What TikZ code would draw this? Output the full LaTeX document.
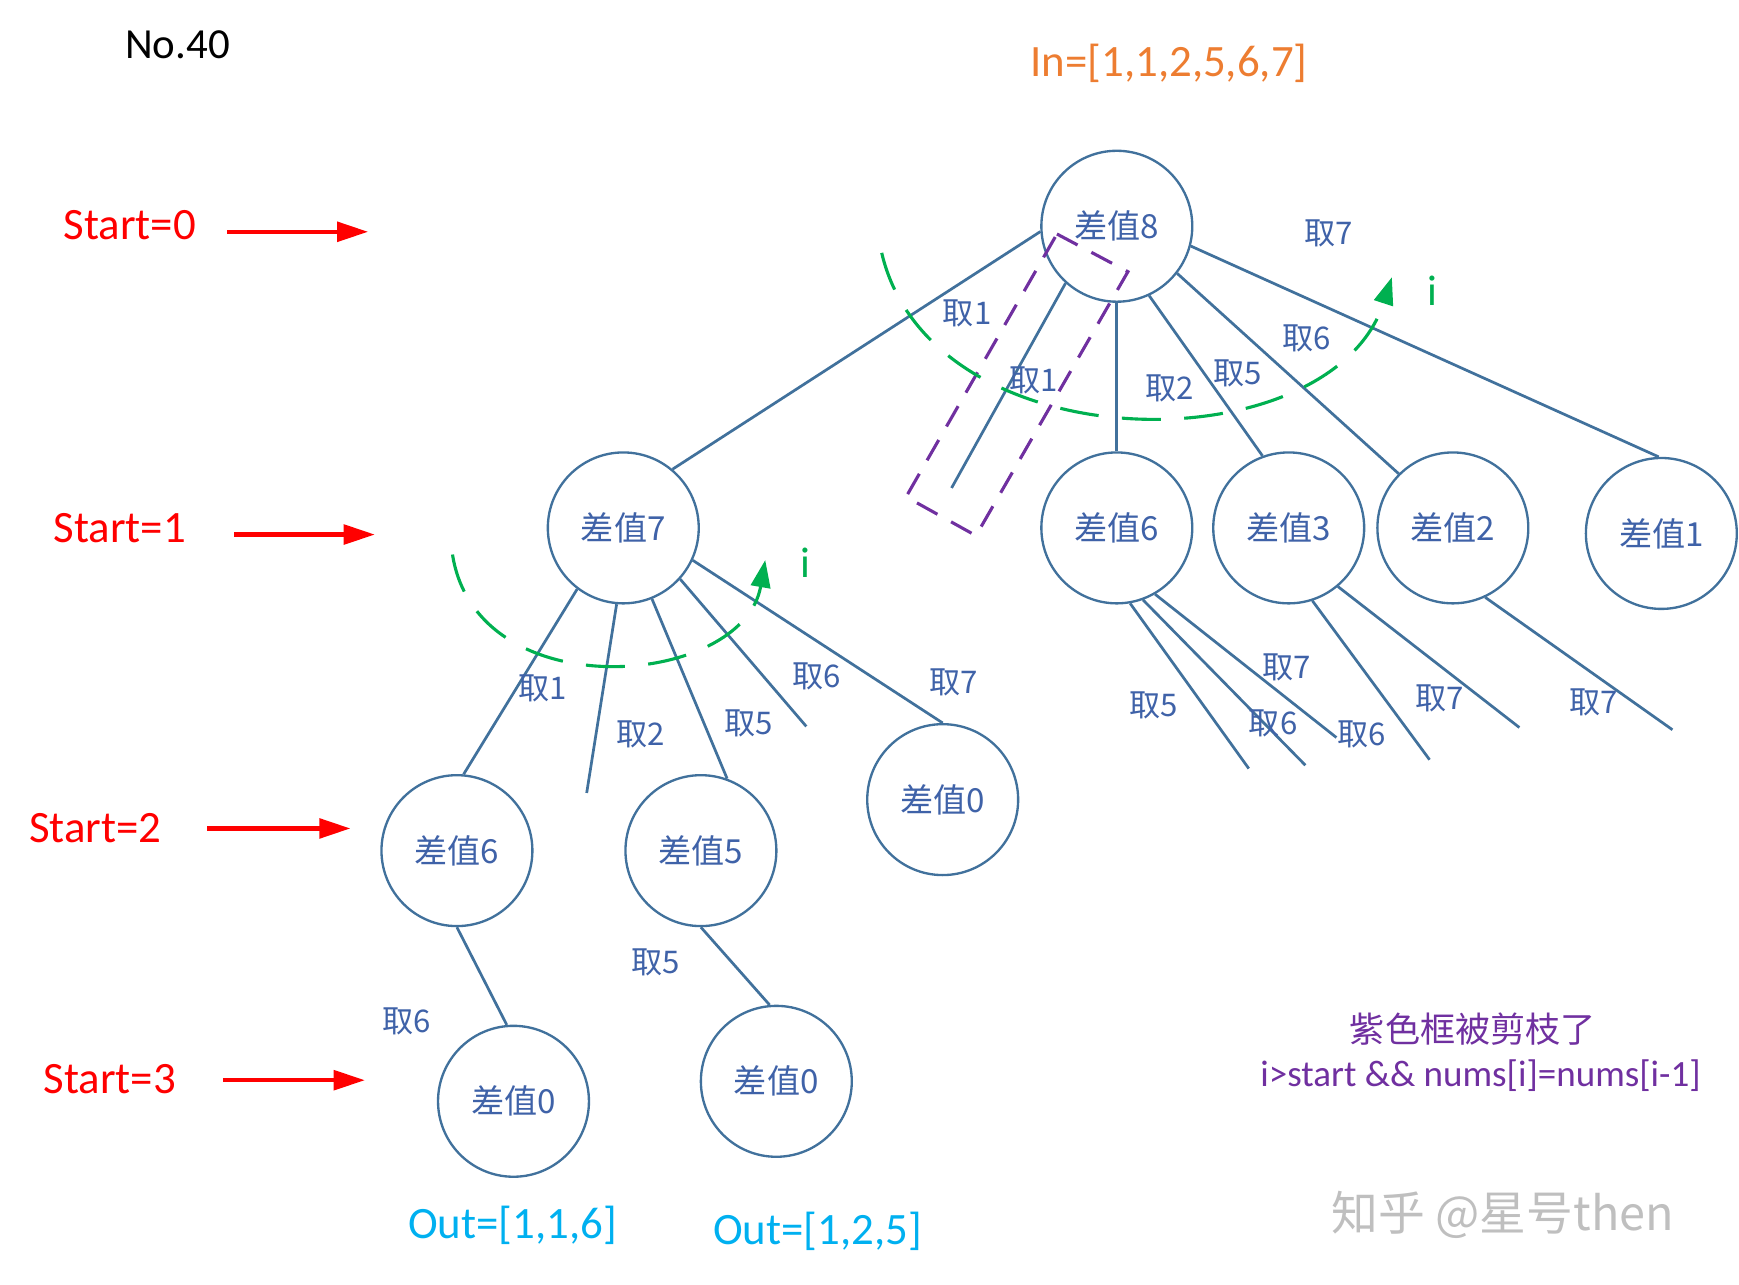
\documentclass[tikz,border=0pt]{standalone}
\usepackage{fontspec}
\setmainfont{Carlito}
\newfontfamily\cjk{Noto Sans CJK SC}
\usetikzlibrary{arrows.meta}
\definecolor{nb}{HTML}{41719C}
\definecolor{tb}{HTML}{3F62A8}
\definecolor{gr}{HTML}{00B050}
\definecolor{pu}{HTML}{7030A0}
\definecolor{orc}{HTML}{ED7D31}
\definecolor{cy}{HTML}{00B0F0}
\begin{document}
\begin{tikzpicture}[x=0.01cm,y=-0.01cm,
  nd/.style={circle,draw=nb,line width=0.6pt,minimum size=1.36cm,inner sep=0pt,text=tb,font=\cjk\fontsize{8.5}{10}\selectfont},
  ed/.style={nb,line width=0.7pt},
  lb/.style={text=tb,font=\cjk\fontsize{8}{10}\selectfont,inner sep=0pt},
  st/.style={text=red,font=\fontsize{11.5}{13}\selectfont,inner sep=0pt},
  ra/.style={red,line width=1.1pt,-{Triangle[length=8pt,width=5pt]}},
  ga/.style={gr,line width=0.8pt,dash pattern=on 10pt off 6pt,-{Triangle[length=7pt,width=5pt]}}]
\useasboundingbox (0,0) rectangle (1568,1158);
% nodes
\node[nd] (n8) at (1007,204) {差值8};
\node[nd] (n7) at (562,476) {差值7};
\node[nd] (n6a) at (1007,476) {差值6};
\node[nd] (n3) at (1162,476) {差值3};
\node[nd] (n2) at (1310,476) {差值2};
\node[nd] (n1) at (1498,481) {差值1};
\node[nd] (a6) at (412,767) {差值6};
\node[nd] (a5) at (632,767) {差值5};
\node[nd] (a0) at (850,721) {差值0};
\node[nd] (b0) at (463,993) {差值0};
\node[nd] (c0) at (700,975) {差值0};
% free ends
\coordinate (p1) at (858,440);
\coordinate (f2) at (529,715);
\coordinate (f6) at (727,655);
\coordinate (g5) at (1126,693);
\coordinate (g6) at (1177,690);
\coordinate (g7) at (1205,665);
\coordinate (h6) at (1289,685);
\coordinate (h7) at (1370,656);
\coordinate (k7) at (1508,658);
% edges
\draw[ed] (n8.184) -- (n7.50);
\draw[ed] (n8.228) -- (p1);
\draw[ed] (n8) -- (n6a);
\draw[ed] (n8.295) -- (n3.110);
\draw[ed] (n8.322) -- (n2.135);
\draw[ed] (n8.345) -- (n1.92);
\draw[ed] (n7.233) -- (a6.85);
\draw[ed] (n7.265) -- (f2);
\draw[ed] (n7.292) -- (a5.70);
\draw[ed] (n7.318) -- (f6);
\draw[ed] (n7.335) -- (a0.90);
\draw[ed] (n6a.280) -- (g5);
\draw[ed] (n6a.290) -- (g6);
\draw[ed] (n6a.300) -- (g7);
\draw[ed] (n3.288) -- (h6);
\draw[ed] (n3.310) -- (h7);
\draw[ed] (n2.295) -- (k7);
\draw[ed] (a6.270) -- (b0.95);
\draw[ed] (a5.270) -- (c0.95);
% edge labels
\node[lb] (l1) at (872,283) {取1};
\node[lb] (l2) at (932,343) {取1};
\node[lb] (l3) at (1055,350) {取2};
\node[lb] (l4) at (1116,337) {取5};
\node[lb] (l5) at (1178,305) {取6};
\node[lb] (l6) at (1198,210) {取7};
\node[lb] (m1) at (489,621) {取1};
\node[lb] (m2) at (578,662) {取2};
\node[lb] (m3) at (675,652) {取5};
\node[lb] (m4) at (736,610) {取6};
\node[lb] (m5) at (860,615) {取7};
\node[lb] (q1) at (1040,636) {取5};
\node[lb] (q2) at (1148,652) {取6};
\node[lb] (q3) at (1160,602) {取7};
\node[lb] (q4) at (1228,662) {取6};
\node[lb] (q5) at (1298,630) {取7};
\node[lb] (q6) at (1437,633) {取7};
\node[lb] (r1) at (367,921) {取6};
\node[lb] (r2) at (591,868) {取5};
% pruned box
\draw[pu,line width=0.8pt,dash pattern=on 6pt off 4pt] (953,211) -- (1017,245) -- (880,483) -- (817,448) -- cycle;
% green arcs
\draw[ga] (795,228) .. controls (840,420) and (1200,420) .. (1255,250);
\node[text=gr,font=\fontsize{11}{13}\selectfont] (i1) at (1292,262) {i};
\draw[ga] (408,500) .. controls (430,640) and (670,620) .. (690,505);
\node[text=gr,font=\fontsize{11}{13}\selectfont] (i2) at (726,507) {i};
% start labels
\node[st] (s0) at (117,203) {Start=0};
\coordinate (s0a) at (205,209); \coordinate (s0b) at (332,209);
\draw[ra] (s0a) -- (s0b);
\node[st] (s1) at (108,476) {Start=1};
\coordinate (s1a) at (211,482); \coordinate (s1b) at (338,482);
\draw[ra] (s1a) -- (s1b);
\node[st] (s2) at (86,747) {Start=2};
\coordinate (s2a) at (187,747); \coordinate (s2b) at (316,747);
\draw[ra] (s2a) -- (s2b);
\node[st] (s3) at (99,973) {Start=3};
\coordinate (s3a) at (201,974); \coordinate (s3b) at (329,974);
\draw[ra] (s3a) -- (s3b);
% texts
\node[font=\fontsize{11}{13}\selectfont] (no) at (160,40) {No.40};
\node[text=orc,font=\fontsize{11.5}{13}\selectfont] (in) at (1054,57) {In=[1,1,2,5,6,7]};
\node[text=cy,font=\fontsize{11.5}{13}\selectfont] (o1) at (462,1105) {Out=[1,1,6]};
\node[text=cy,font=\fontsize{11.5}{13}\selectfont] (o2) at (737,1110) {Out=[1,2,5]};
\node[text=pu,font=\cjk\fontsize{9}{11}\selectfont] (pt) at (1328,928) {紫色框被剪枝了};
\node[text=pu,font=\fontsize{9.5}{11}\selectfont] (pc) at (1335,970) {i>start \&\& nums[i]=nums[i-1]};
\node[text=black!25,font=\cjk\fontsize{12}{14}\selectfont] (wm) at (1355,1095) {知乎 @星号then};
\end{tikzpicture}
\end{document}
